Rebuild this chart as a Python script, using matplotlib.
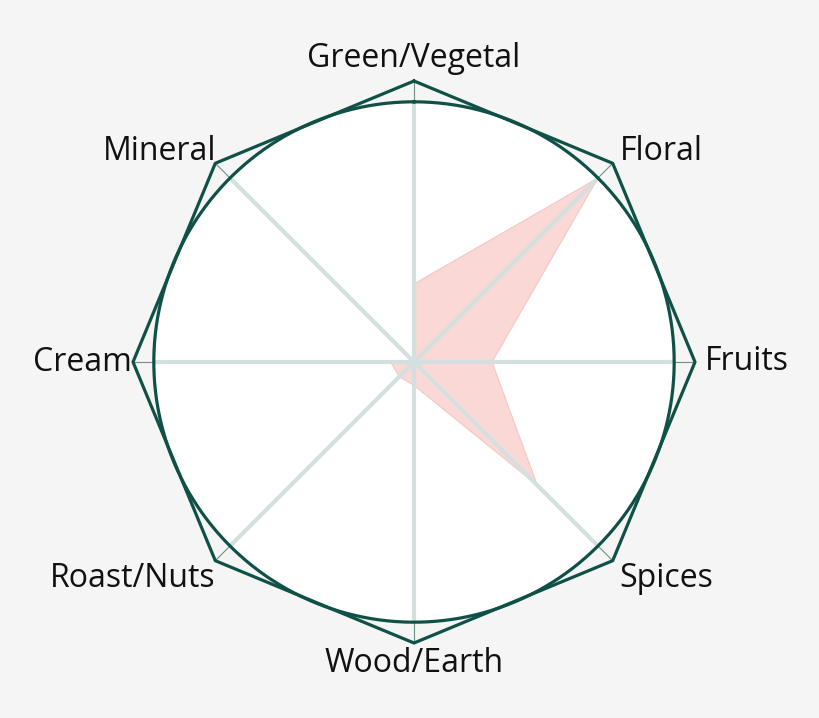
import matplotlib
matplotlib.use('Agg')
import matplotlib.pyplot as plt
import numpy as np

# categories clockwise from the top, and their scores (0..1)
categories = ['Green/Vegetal', 'Floral', 'Fruits', 'Spices',
              'Wood/Earth', 'Roast/Nuts', 'Cream', 'Mineral']
scores = [0.30, 1.00, 0.30, 0.67, 0.09, 0.08, 0.09, 0.0]

plt.rcParams['font.family'] = ['Open Sans', 'DejaVu Sans']

BG = '#f5f5f5'
DARK = '#0f5147'
SPOKE = '#d4dfdf'
R_CIRCLE = 1.0
R_OCT = 1.08


def main():
    n = len(categories)
    angles = np.arange(n) * 2 * np.pi / n

    fig = plt.figure(figsize=(8.2, 7.18), dpi=100, facecolor=BG)
    ax = fig.add_axes([133 / 820, 75 / 718, 562 / 820, 562 / 718], projection='polar')
    ax.set_theta_zero_location('N')
    ax.set_theta_direction(-1)
    ax.set_ylim(0, R_OCT)
    ax.set_facecolor(BG)
    ax.spines['polar'].set_visible(False)
    ax.grid(False)
    ax.set_xticks([])
    ax.set_yticks([])

    # white disc
    t = np.linspace(0, 2 * np.pi, 400)
    ax.fill_between(t, 0, R_CIRCLE, color='white', zorder=1)

    # data polygon
    vals = scores + scores[:1]
    ang = list(angles) + [angles[0]]
    ax.fill(ang, vals, facecolor='#f9d8d5', edgecolor='#f2c8c4', linewidth=0.8, zorder=2)

    # spokes
    for a in angles:
        ax.plot([a, a], [0, R_CIRCLE], color=SPOKE, linewidth=3, zorder=3, solid_capstyle='butt')
        ax.plot([a, a], [R_CIRCLE, R_OCT], color='#6f8f8a', linewidth=0.8, zorder=3)

    # circle and octagon
    ax.plot(t, np.full_like(t, R_CIRCLE), color=DARK, linewidth=2.3, zorder=4)
    ax.plot(ang, [R_OCT] * (n + 1), color=DARK, linewidth=2.3, zorder=4, clip_on=False)

    # labels (alignment and offset in points from the octagon corner)
    placement = {
        'Green/Vegetal': ('center', 'center', (0, 16.5)),
        'Floral': ('left', 'center', (5.5, 8.6)),
        'Fruits': ('left', 'center', (7, 0)),
        'Spices': ('left', 'center', (5, -12.8)),
        'Wood/Earth': ('center', 'center', (0, -14.4)),
        'Roast/Nuts': ('right', 'center', (0, -12.8)),
        'Cream': ('right', 'center', (-0.7, 0)),
        'Mineral': ('right', 'center', (0.7, 8.6)),
    }
    for a, lab in zip(angles, categories):
        ha, va, off = placement[lab]
        ax.annotate(lab, xy=(a, R_OCT), xytext=off, textcoords='offset points',
                    ha=ha, va=va, fontsize=23, color='#111111', annotation_clip=False)

    fig.savefig('out.png', dpi=100, facecolor=BG)


if __name__ == '__main__':
    main()
